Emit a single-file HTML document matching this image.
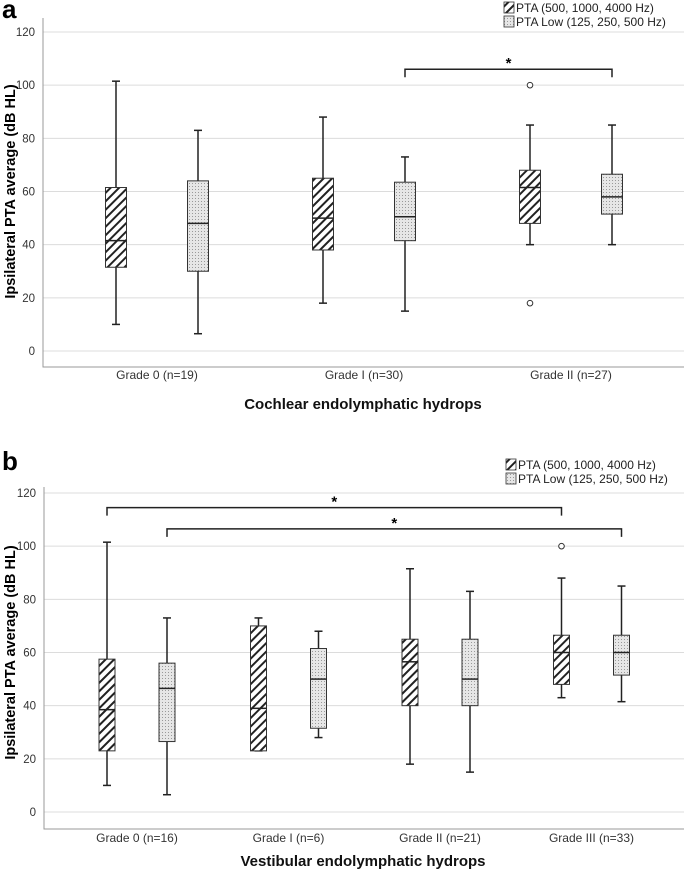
<!DOCTYPE html>
<html><head><meta charset="utf-8"><style>
body{margin:0;background:#fff;}
svg{display:block;font-family:"Liberation Sans",Arial,sans-serif;}
</style></head><body>
<svg id="chart" width="685" height="875" viewBox="0 0 685 875">
<defs>
<pattern id="hatch" patternUnits="userSpaceOnUse" width="6" height="6" patternTransform="rotate(45)">
<rect width="6" height="6" fill="#fff"/><rect x="0" y="0" width="2" height="6" fill="#222"/>
</pattern>
<pattern id="dots" patternUnits="userSpaceOnUse" width="3" height="3">
<rect width="3" height="3" fill="#e6e6e6"/><rect width="1" height="1" fill="#999"/>
</pattern>
</defs>
</svg>
<script>
// Panel a data
const catsA = ["Grade 0 (n=19)","Grade I (n=30)","Grade II (n=27)"];
const ptaA = [[10,31.5,41.5,61.5,101.5],[18,38,50,65,88],[40,48,61.5,68,85]];
const lowA = [[6.5,30,48,64,83],[15,41.5,50.5,63.5,73],[40,51.5,58,66.5,85]];
const outPtaA = [[],[],[100,18]];
const outLowA = [[],[],[]];
// Panel b data
const catsB = ["Grade 0 (n=16)","Grade I (n=6)","Grade II (n=21)","Grade III (n=33)"];
const ptaB = [[10,23,38.5,57.5,101.5],[23,23,39,70,73],[18,40,56.5,65,91.5],[43,48,60,66.5,88]];
const lowB = [[6.5,26.5,46.5,56,73],[28,31.5,50,61.5,68],[15,40,50,65,83],[41.5,51.5,60,66.5,85]];
const outPtaB = [[],[],[],[100]];
const outLowB = [[],[],[],[]];
const ticks = [0,20,40,60,80,100,120];

const svg = document.getElementById('chart');
const NS = "http://www.w3.org/2000/svg";
function mk(tag, attrs, parent){const e=document.createElementNS(NS,tag);for(const k in attrs)e.setAttribute(k,attrs[k]);(parent||svg).appendChild(e);return e;}

function panel(o){
  const g = mk('g',{});
  
  
  const y = v => o.y0 - v*(o.y0-o.y120)/120;
  const pl = mk('text',{x:2,y:o.labelY,'font-size':26,'font-weight':'bold',fill:'#000'},g); pl.textContent=o.letter;
   
  ticks.forEach(t=>{
    const gl = mk('line',{x1:o.ax,x2:684,y1:y(t),y2:y(t),stroke:'#dcdcdc','stroke-width':1},g);
     
    const tl = mk('text',{x:o.ax-8,y:y(t)+4,'font-size':11.5,fill:'#333','text-anchor':'end'},g); tl.textContent=t;
     
  });
  const axl = mk('path',{d:`M${o.ax},${o.axTop} V${o.axBot} H684`,stroke:'#999',fill:'none','stroke-width':1},g);
   
  const yt = mk('text',{x:0,y:0,'font-size':14.5,'font-weight':'bold',fill:'#000','text-anchor':'middle',transform:`translate(15,${(o.y0+o.y120)/2}) rotate(-90)`},g);
  yt.textContent='Ipsilateral PTA average (dB HL)';
   
  const xt = mk('text',{x:o.xTitleX,y:o.xTitleY,'font-size':15,'font-weight':'bold',fill:'#111','text-anchor':'middle'},g);
  xt.textContent=o.xTitle;
   
  const bw=o.bw;
  function box(cx, d, fill, outs, nm){
    const bg = mk('g',{},g);
     
    mk('line',{x1:cx,x2:cx,y1:y(d[0]),y2:y(d[4]),stroke:'#222','stroke-width':1.5},bg);
    mk('line',{x1:cx-4,x2:cx+4,y1:y(d[0]),y2:y(d[0]),stroke:'#222','stroke-width':1.5},bg);
    mk('line',{x1:cx-4,x2:cx+4,y1:y(d[4]),y2:y(d[4]),stroke:'#222','stroke-width':1.5},bg);
    mk('rect',{x:cx-bw/2,y:y(d[3]),width:bw,height:Math.max(1,y(d[1])-y(d[3])),fill:fill,stroke:'#333','stroke-width':1},bg);
    mk('line',{x1:cx-bw/2,x2:cx+bw/2,y1:y(d[2]),y2:y(d[2]),stroke:'#222','stroke-width':1.5},bg);
    outs.forEach(v=>{const c=mk('circle',{cx:cx,cy:y(v),r:2.8,fill:'#fff',stroke:'#333','stroke-width':1},bg);
       });
  }
  o.cats.forEach((c,i)=>{
    const cx = o.x0 + i*o.step;
    box(cx-o.off, o.pta[i], 'url(#hatch)', o.outPta[i], 'box-pta-'+i);
    box(cx+o.off, o.low[i], 'url(#dots)', o.outLow[i], 'box-pta-low-'+i);
    const cl = mk('text',{x:cx,y:o.catY,'font-size':12,fill:'#333','text-anchor':'middle'},g); cl.textContent=c;
     
  });
  o.brackets.forEach(b=>{
    const x1 = o.x0 + b.from[0]*o.step + b.from[1]*o.off;
    const x2 = o.x0 + b.to[0]*o.step + b.to[1]*o.off;
    const br = mk('path',{d:`M${x1},${y(b.v)+8} V${y(b.v)} H${x2} V${y(b.v)+8}`,stroke:'#222',fill:'none','stroke-width':1.5},g);
     
    const st = mk('text',{x:(x1+x2)/2,y:y(b.v)-1,'font-size':15,'font-weight':'bold','text-anchor':'middle',fill:'#000'},g); st.textContent='*';
     
  });
  const lg = mk('g',{},g);
   
  [['url(#hatch)','PTA (500, 1000, 4000 Hz)'],['url(#dots)','PTA Low (125, 250, 500 Hz)']].forEach((e,i)=>{
    const ly = o.legY + i*14;
    mk('rect',{x:o.legX,y:ly,width:10,height:11,fill:e[0],stroke:'#333','stroke-width':0.8},lg);
    const t = mk('text',{x:o.legX+12,y:ly+10,'font-size':12,fill:'#222'},lg); t.textContent=e[1];
     
  });
}

panel({name:'panel-a',letter:'a',labelY:18,y0:351,y120:32,ax:43,axTop:18,axBot:367,
  cats:catsA,pta:ptaA,low:lowA,outPta:outPtaA,outLow:outLowA,x0:157,step:207,off:41,bw:21,
  catY:379,xTitle:'Cochlear endolymphatic hydrops',xTitleX:363,xTitleY:409,
  brackets:[{from:[1,1],to:[2,1],v:106}],legX:504,legY:2});
panel({name:'panel-b',letter:'b',labelY:470,y0:812,y120:493,ax:44,axTop:487,axBot:829,
  cats:catsB,pta:ptaB,low:lowB,outPta:outPtaB,outLow:outLowB,x0:137,step:151.5,off:30,bw:16,
  catY:842,xTitle:'Vestibular endolymphatic hydrops',xTitleX:363,xTitleY:866,
  brackets:[{from:[0,-1],to:[3,-1],v:114.5},{from:[0,1],to:[3,1],v:106.5}],legX:506,legY:459});
</script>
</body></html>
